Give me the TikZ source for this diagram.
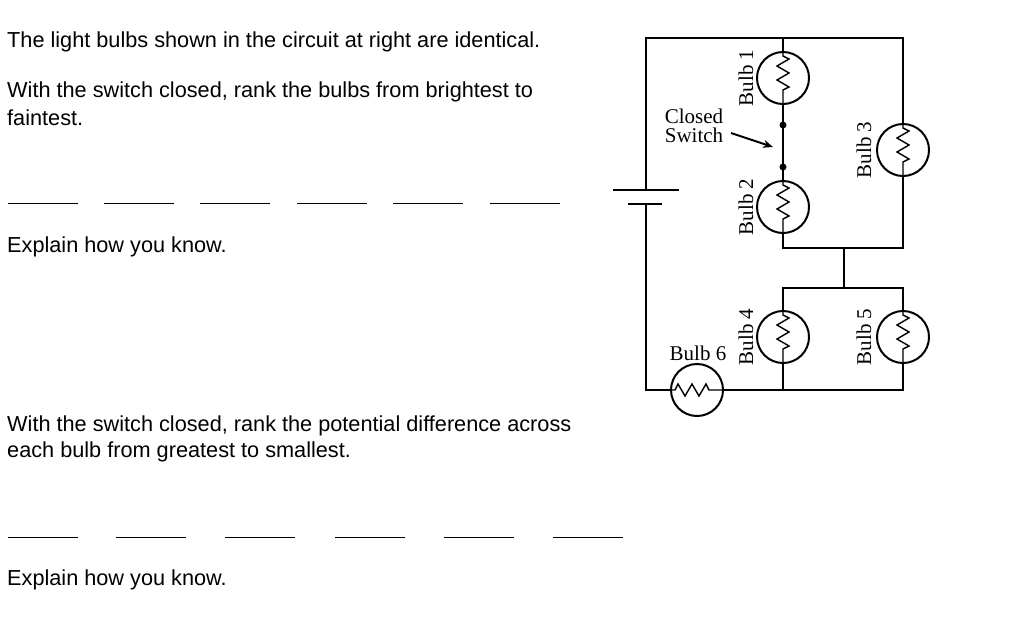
\documentclass[tikz,border=0pt]{standalone}
\usepackage{fontspec}
\usetikzlibrary{arrows.meta}
\setmainfont{Liberation Serif}
\newfontfamily\sansf{Liberation Sans}
\begin{document}
\begin{tikzpicture}[x=1pt,y=-1pt,
  txt/.style={anchor=west,inner sep=0,font=\sansf\fontsize{21.7}{25}\selectfont},
  lbl/.style={inner sep=0,font=\fontsize{21}{19.5}\selectfont},
  wire/.style={line width=2pt},
  bulb/.style={circle,draw,line width=2pt,minimum size=52pt,inner sep=0},
  blank/.style={line width=0.7pt}]
\useasboundingbox (0,0) rectangle (1024,643);
% text
\node[txt] (t1) at (7,42) {The light bulbs shown in the circuit at right are identical.};
\node[txt] (t2) at (7,92) {With the switch closed, rank the bulbs from brightest to};
\node[txt] (t3) at (7,118) {faintest.};
\node[txt] (t4) at (7,247) {Explain how you know.};
\node[txt] (t5) at (7,426) {With the switch closed, rank the potential difference across};
\node[txt] (t6) at (7,452) {each bulb from greatest to smallest.};
\node[txt] (t7) at (7,580) {Explain how you know.};
\foreach \x in {8,104,200,297,393,490} \draw[blank] (\x,203) -- ++(70,0);
\foreach \x in {8,116,225,335,444,553} \draw[blank] (\x,537) -- ++(70,0);
% circuit coords
\coordinate (TL) at (646,38); \coordinate (TM) at (783,38); \coordinate (TR) at (903,38);
\coordinate (BL) at (646,390); \coordinate (BM) at (783,390); \coordinate (BR) at (903,390);
\coordinate (M2) at (783,248); \coordinate (M3) at (903,248); \coordinate (MC) at (844,248);
\coordinate (L4) at (783,288); \coordinate (L5) at (903,288); \coordinate (LC) at (844,288);
\coordinate (P1) at (646,190); \coordinate (P2) at (646,204);
\node[bulb] (b1) at (783,78) {}; \node[bulb] (b2) at (783,207) {};
\node[bulb] (b3) at (903,150) {}; \node[bulb] (b4) at (783,337) {};
\node[bulb] (b5) at (903,337) {}; \node[bulb] (b6) at (697,390) {};
\fill (783,125) circle (3.5pt) coordinate (s1);
\fill (783,167) circle (3.5pt) coordinate (s2);
% zigzags
\foreach \b in {b1,b2,b3,b4,b5} {
  \draw[line width=1.4pt] (\b.north) -- ++(0,5) -- ++(6,3) -- ++(-12,7) -- ++(12,7) -- ++(-12,7) -- ++(12,7) -- ++(-6,3) -- (\b.south);
}
\draw[line width=1.4pt] (b6.west) -- ++(5,0) -- ++(3,-6) -- ++(7,12) -- ++(7,-12) -- ++(7,12) -- ++(7,-12) -- ++(3,6) -- (b6.east);
% wires
\draw[wire] (P1) -- (TL) -- (TR) -- (b3.north);
\draw[wire] (TM) -- (b1.north);
\draw[wire] (b1.south) -- (s1) -- (s2) -- (b2.north);
\draw[wire] (b2.south) -- (M2) -- (M3) -- (b3.south);
\draw[wire] (MC) -- (LC);
\draw[wire] (b4.north) -- (L4) -- (L5) -- (b5.north);
\draw[wire] (b4.south) -- (BM);
\draw[wire] (b5.south) -- (BR) -- (b6.east);
\draw[wire] (b6.west) -- (BL) -- (P2);
\draw[wire] (613,190) -- (679,190);
\draw[wire] (628,204) -- (662,204);
% labels
\node[lbl,rotate=90] (l1) at (746,78) {Bulb 1};
\node[lbl,rotate=90] (l2) at (746,207) {Bulb 2};
\node[lbl,rotate=90] (l3) at (864,150) {Bulb 3};
\node[lbl,rotate=90] (l4) at (746,337) {Bulb 4};
\node[lbl,rotate=90] (l5) at (864,337) {Bulb 5};
\node[lbl] (l6) at (698,353) {Bulb 6};
\node[lbl,align=left] (cs) at (694,126) {Closed\\Switch};
\coordinate (ae) at (773,147);
\draw[line width=2pt,-{Stealth[length=10pt,width=8pt]}] (731,133) -- (ae);
\end{tikzpicture}
\end{document}
